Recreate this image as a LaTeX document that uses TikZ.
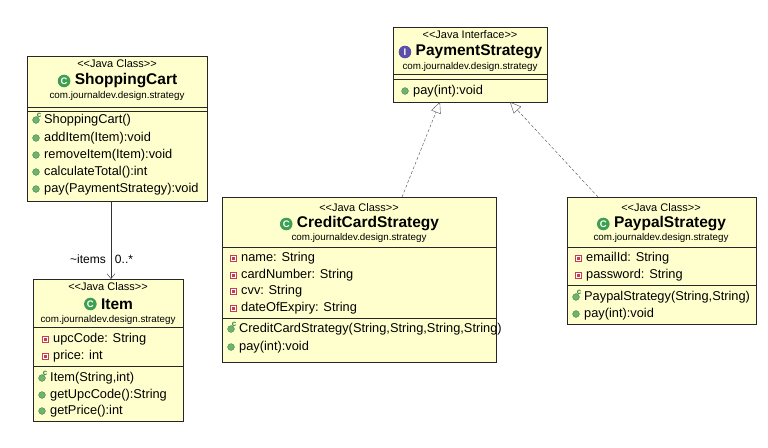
\documentclass[tikz,border=0pt]{standalone}
\usepackage{fontspec}
\setmainfont{Liberation Sans}
\usetikzlibrary{arrows.meta,calc}
\definecolor{boxfill}{RGB}{255,255,206}
\definecolor{grn}{RGB}{60,160,80}
\definecolor{mgrn}{RGB}{110,180,110}
\definecolor{red1}{RGB}{200,60,80}
\definecolor{purp}{RGB}{90,80,170}
\tikzset{
  cls/.style={draw=black!85,fill=boxfill,line width=0.8pt},
  sep/.style={draw=black!85,line width=0.8pt},
  stereo/.style={font=\fontsize{11}{12}\selectfont,inner sep=0},
  cname/.style={font=\fontsize{15.5}{16}\selectfont\bfseries,inner sep=0},
  pkg/.style={font=\fontsize{9.8}{11}\selectfont,inner sep=0},
  mem/.style={font=\fontsize{12.8}{13}\selectfont,inner sep=0,anchor=west},
  lbl/.style={font=\fontsize{12}{13}\selectfont,inner sep=0},
  real/.style={densely dashed,draw=black!70,-{Triangle[open,length=11pt,width=10pt]}},
  assoc/.style={draw=black!80,-{Straight Barb[length=5pt,width=8pt]}}
}
\newcommand{\stl}{{<}{<}}
\newcommand{\str}{{>}{>}}
\newcommand{\methdot}[1]{\fill[mgrn,draw=grn!70!black,line width=0.3pt] (#1) circle (3.4pt);}
\newcommand{\ctordot}[1]{\fill[mgrn,draw=grn!70!black,line width=0.3pt] (#1) circle (3.4pt); \node[inner sep=0,text=grn!80!black,font=\fontsize{8}{8}\selectfont\bfseries] at ($(#1)+(3,-4.5)$) {c};}
\newcommand{\privdot}[1]{\fill[white,draw=red1,line width=0.3pt] ($(#1)+(-2.8,-2.8)$) rectangle ($(#1)+(2.8,2.8)$); \fill[red1] ($(#1)+(-1.5,-1.5)$) rectangle ($(#1)+(1.5,1.5)$);}
\newcommand{\cicon}[2]{\fill[#2] (#1) circle (6.3pt); \node[inner sep=0,text=white,font=\fontsize{9.5}{9}\selectfont\bfseries] at (#1) {C};}
\newcommand{\iicon}[1]{\fill[purp] (#1) circle (6.3pt); \node[inner sep=0,text=white,font=\fontsize{9.5}{9}\selectfont\bfseries] at (#1) {I};}
\begin{document}
\begin{tikzpicture}[x=1pt,y=-1pt]
\useasboundingbox (0,0) rectangle (768,447);
% ShoppingCart
\draw[cls] (27,56) rectangle (207,201);
\coordinate (scb) at (111,201);
\draw[sep] (27,107)--(207,107); \draw[sep] (27,111)--(207,111);
\node[stereo] (s1) at (117,64) {\stl Java Class\str};
\node[cname] (s2) at (126,81) {ShoppingCart};
\coordinate (s2i) at ($(s2.west)+(-10.5,0)$); \cicon{s2i}{grn}
\node[pkg] (s3) at (117,96) {com.journaldev.design.strategy};
\ctordot{36,120}\node[mem] (sm1) at (44,120) {ShoppingCart()};
\methdot{36,138}\node[mem] (sm2) at (44,138) {addItem(Item):void};
\methdot{36,155}\node[mem] (sm3) at (44,155) {removeItem(Item):void};
\methdot{36,172}\node[mem] (sm4) at (44,172) {calculateTotal():int};
\methdot{36,189}\node[mem] (sm5) at (44,189) {pay(PaymentStrategy):void};
% Item
\draw[cls] (33,279) rectangle (183,421);
\coordinate (itt) at (111,279);
\draw[sep] (33,327)--(183,327); \draw[sep] (33,366)--(183,366);
\node[stereo] (i1) at (108,287) {\stl Java Class\str};
\node[cname] (i2) at (117,304) {Item};
\coordinate (i2i) at ($(i2.west)+(-10.5,0)$); \cicon{i2i}{grn}
\node[pkg] (i3) at (108,320) {com.journaldev.design.strategy};
\privdot{45,339}\node[mem] (ia1) at (53,339) {upcCode: String};
\privdot{45,356}\node[mem] (ia2) at (53,356) {price: int};
\ctordot{42,378}\node[mem] (im1) at (50,378) {Item(String,int)};
\methdot{42,395}\node[mem] (im2) at (50,395) {getUpcCode():String};
\methdot{42,411}\node[mem] (im3) at (50,411) {getPrice():int};
\draw[assoc] (scb) -- (itt);
\node[lbl] (l1) at (88,259) {\textasciitilde items};
\node[lbl] (l2) at (124,259) {0..*};
% PaymentStrategy
\draw[cls] (393,27) rectangle (547,102);
\draw[sep] (393,74)--(547,74); \draw[sep] (393,79)--(547,79);
\node[stereo] (p1) at (470,35) {\stl Java Interface\str};
\node[cname] (p2) at (479,52) {PaymentStrategy};
\coordinate (p2i) at ($(p2.west)+(-10.5,0)$); \iicon{p2i}
\node[pkg] (p3) at (470,67) {com.journaldev.design.strategy};
\methdot{405,91}\node[mem] (pm1) at (413,91) {pay(int):void};
\coordinate (psa) at (440,102); \coordinate (psb) at (510,102);
% CreditCardStrategy
\draw[cls] (222,197) rectangle (496,362);
\draw[sep] (222,247)--(496,247); \draw[sep] (222,318)--(496,318);
\node[stereo] (c1) at (359,208) {\stl Java Class\str};
\node[cname] (c2) at (368,224) {CreditCardStrategy};
\coordinate (c2i) at ($(c2.west)+(-10.5,0)$); \cicon{c2i}{grn}
\node[pkg] (c3) at (359,238) {com.journaldev.design.strategy};
\privdot{233,258}\node[mem] (ca1) at (241,258) {name: String};
\privdot{233,275}\node[mem] (ca2) at (241,275) {cardNumber: String};
\privdot{233,291}\node[mem] (ca3) at (241,291) {cvv: String};
\privdot{233,308}\node[mem] (ca4) at (241,308) {dateOfExpiry: String};
\ctordot{231,329}\node[mem] (cm1) at (239,329) {CreditCardStrategy(String,String,String,String)};
\methdot{231,347}\node[mem] (cm2) at (239,347) {pay(int):void};
\coordinate (cct) at (402,197);
% PaypalStrategy
\draw[cls] (567,197) rectangle (756,324);
\draw[sep] (567,247)--(756,247); \draw[sep] (567,285)--(756,285);
\node[stereo] (q1) at (661,208) {\stl Java Class\str};
\node[cname] (q2) at (670,224) {PaypalStrategy};
\coordinate (q2i) at ($(q2.west)+(-10.5,0)$); \cicon{q2i}{grn}
\node[pkg] (q3) at (661,238) {com.journaldev.design.strategy};
\privdot{578,258}\node[mem] (qa1) at (586,258) {emailId: String};
\privdot{578,275}\node[mem] (qa2) at (586,275) {password: String};
\ctordot{576,297}\node[mem] (qm1) at (584,297) {PaypalStrategy(String,String)};
\methdot{576,314}\node[mem] (qm2) at (584,314) {pay(int):void};
\coordinate (ppt) at (598,197);
\draw[real] (cct) -- (psa);
\draw[real] (ppt) -- (psb);
\end{tikzpicture}
\end{document}
